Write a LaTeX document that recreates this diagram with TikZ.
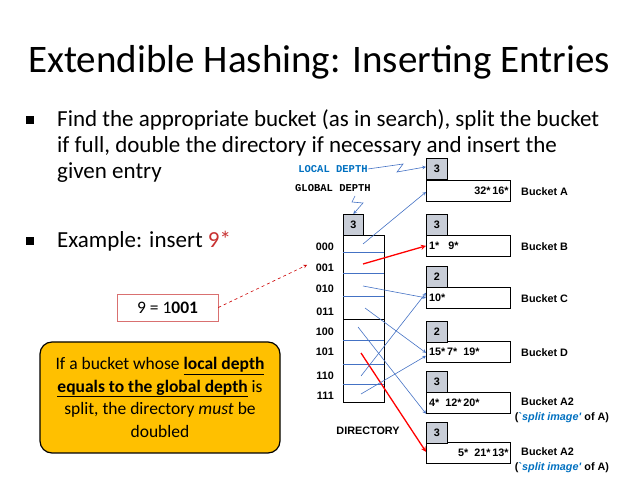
\documentclass[tikz,border=0pt]{standalone}
\usepackage{fontspec}
\setmainfont{Carlito}
\newfontfamily\arial{Liberation Sans}
\newfontfamily\cour{Liberation Mono}
\definecolor{sblue}{RGB}{68,114,196}
\definecolor{lblue}{RGB}{0,112,192}
\definecolor{ored}{RGB}{200,50,50}
\definecolor{gold}{RGB}{255,192,0}
\definecolor{dgray}{RGB}{200,205,215}
\tikzset{
 lab/.style={font=\arial\bfseries\fontsize{10.8}{12}\selectfont, inner sep=0pt},
 bkt/.style={draw, line width=0.7pt},
 dep/.style={draw, fill=dgray, line width=0.7pt},
 ptr/.style={-stealth, draw=sblue, line width=0.6pt},
 rptr/.style={-stealth, draw=red, line width=1.3pt},
 bul/.style={fill=black, minimum size=8pt, inner sep=0pt},
}
\begin{document}
\begin{tikzpicture}[x=1pt,y=-1pt]
\useasboundingbox (0,0) rectangle (638,478);
\node[anchor=west, inner sep=0pt, font=\fontsize{39}{42}\selectfont] (title) at (28,62) {Extendible Hashing: Inserting Entries};
\begin{scope}[every node/.style={anchor=west, inner sep=0pt, font=\fontsize{23}{27}\selectfont}]
\node (t1) at (57,120) {Find the appropriate bucket (as in search), split the bucket};
\node (t2) at (57,146) {if full, double the directory if necessary and insert the};
\node (t3) at (57,173) {given entry};
\node (t4) at (57,241) {Example: insert \textcolor{ored}{9*}};
\end{scope}
\node[bul] (b1) at (30,120) {};
\node[bul] (b2) at (30,241) {};
\node[draw=ored!70, line width=0.7pt, minimum width=101pt, minimum height=27pt, font=\fontsize{17.5}{20}\selectfont] (nine) at (167.5,307.5) {9 = 1\textbf{001}};
\node[draw, fill=gold, rounded corners=12pt, line width=1.2pt, minimum width=240pt, minimum height=111pt, align=center, font=\fontsize{17.5}{22.5}\selectfont] (note) at (160,397.5) {If a bucket whose \underline{\textbf{local depth}}\\ \underline{\textbf{equals to the global depth}} is\\ split, the directory \textit{must} be\\ doubled};
% directory
\draw[line width=0.7pt] (343,235) rectangle (384,402);
\node[dep, minimum width=20pt, minimum height=21pt, inner sep=0pt, anchor=north west] (gd) at (343,214) {};
\node[lab] at (gd) {3};
\foreach \y in {252,273,296,340,364,384} \draw[sblue, line width=0.6pt] (343,\y) -- (384,\y);
\draw[line width=0.7pt] (343,319) -- (384,319);
\foreach \t/\y in {000/247,001/268,010/289,011/312,100/332,101/352,110/376,111/396}
  \node[lab, anchor=east] (d\t) at (334,\y) {\t};
\node[lab] (dirl) at (368,431) {DIRECTORY};
% buckets
\foreach \n/\yb/\yd in {A/180/158,B/235/214,C/287/266,D/341/321,E/392/371,F/442/422}{
  \node[bkt, minimum width=84pt, minimum height=21pt, inner sep=0pt, anchor=north west] (\n) at (426,\yb) {};
  \node[dep, minimum width=21pt, minimum height=21pt, inner sep=0pt, anchor=north west] (\n d) at (426,\yd) {};
}
\foreach \n/\v in {Ad/3,Bd/3,Cd/2,Dd/2,Ed/3,Fd/3} \node[lab] at (\n) {\v};
\node[lab, anchor=east] at ([xshift=-2pt]A.east) {32*\,16*};
\node[lab, anchor=west] at ([xshift=3pt]B.west) {1*~~ 9*};
\node[lab, anchor=west] at ([xshift=3pt]C.west) {10*};
\node[lab, anchor=west] at ([xshift=3pt]D.west) {15*\,7*~~19*};
\node[lab, anchor=west] at ([xshift=3pt]E.west) {4*~~12*\,20*};
\node[lab, anchor=east] at ([xshift=-2pt]F.east) {5*~~21*\,13*};
\node[lab, anchor=west] at (521,192) {Bucket A};
\node[lab, anchor=west] at (521,247) {Bucket B};
\node[lab, anchor=west] at (521,299) {Bucket C};
\node[lab, anchor=west] at (521,353) {Bucket D};
\node[lab, anchor=west] at (521,402) {Bucket A2};
\node[lab] at (562,418) {(\textcolor{lblue}{`\textit{split image'}} of A)};
\node[lab, anchor=west] at (521,452) {Bucket A2};
\node[lab] at (562,468) {(\textcolor{lblue}{`\textit{split image'}} of A)};
% depth labels
\node[font=\cour\bfseries\fontsize{10.5}{12}\selectfont, text=lblue, inner sep=0pt] (ld) at (333,169) {LOCAL DEPTH};
\node[font=\cour\bfseries\fontsize{10.5}{12}\selectfont, inner sep=0pt] (gdl) at (333,188) {GLOBAL DEPTH};
\draw[ptr] (ld.east) -- (403,164) -- (397,172) -- ([yshift=2pt]Ad.west);
\draw[ptr] (355,196) -- (352,202) -- (363,203) -- (gd.north);
% pointers
\coordinate (p0) at (363,244); \coordinate (p1) at (363,264);
\coordinate (p2) at (363,286); \coordinate (p3) at (365,308);
\coordinate (p4) at (358,327); \coordinate (p5) at (361,353);
\coordinate (p6) at (361,376); \coordinate (p7) at (361,394);
\draw[ptr] (p0) -- (426,192);
\draw[rptr] (p1) -- (B.west);
\draw[ptr] (p2) -- (C.west);
\draw[ptr] (p3) -- ([yshift=-1pt]D.west);
\draw[ptr] (p4) -- (E.south west);
\draw[rptr] (p5) -- ([yshift=1pt]F.west);
\draw[ptr] (p6) -- ([yshift=5pt]C.west);
\draw[ptr] (p7) -- ([yshift=-4pt]D.west);
\draw[-stealth, red!80!black, dashed, line width=0.6pt] (nine.east) -- (307,265);
\end{tikzpicture}
\end{document}
